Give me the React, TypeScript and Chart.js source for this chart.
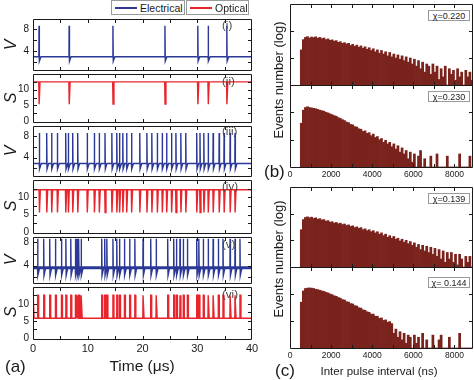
import React, { useEffect, useRef } from 'react';
import { Chart, registerables } from 'chart.js';

Chart.register(...registerables);

// ---------------- data ----------------
// (a) spike times in microseconds
const SPIKES_I = [1.1, 6.6, 14.6, 24.1, 30.1, 32.0, 35.4];
const SPIKES_III = [1.16, 2.5, 3.4, 4.45, 5.97, 6.45, 7.25, 8.16, 9.9, 11.2, 12.1, 13.15, 14.4, 15.3, 15.8, 16.4, 17.1, 18.0, 19.5, 20.8, 21.7, 22.7, 23.6, 24.4, 25.3, 26.1, 27.0, 27.9, 29.9, 30.5, 31.2, 32.0, 32.9, 34.0, 34.9, 36.0, 36.9];
const SPIKES_V = [0.85, 1.95, 3.05, 4.1, 5.2, 6.0, 6.9, 7.75, 8.05, 8.35, 8.8, 12.55, 13.1, 13.5, 14.6, 15.3, 15.8, 16.7, 17.65, 18.6, 20.1, 21.5, 22.5, 24.6, 25.7, 26.2, 26.85, 27.45, 28.2, 29.9, 30.3, 31.1, 32.0, 32.9, 33.85, 34.7, 36.0, 36.9, 37.8];

// voltage levels [base, peak, dip]
const V_LEVELS_I = [3.0, 8.6, 2.2];
const V_LEVELS_III = [2.9, 8.5, 1.9];
const V_LEVELS_V = [3.6, 8.6, 2.3];
// optical levels [steady, extreme]
const S_LEVELS_II = [12.5, 5.4];
const S_LEVELS_IV = [12.2, 5.6];
const S_LEVELS_VI = [5.8, 12.6];

const TIME_LABELS = [0, 10, 20, 30, 40];
const TIME_MARKS = [5, 10, 15, 20, 25, 30, 35];
const V_LABELS = [4, 8];
const V_MARKS = [2, 4, 6, 8];
const S_LABELS = [0, 5, 10];
const S_MARKS = [2.5, 5, 7.5, 10, 12.5];

// (b),(c) histograms: inter pulse interval bins (ns) and event counts
const BIN_START = 500;
const BIN_WIDTH = 100;
const COUNTS_B1 = [20, 48,
  58, 62, 55, 60, 57, 61, 54, 58, 52, 55,
  48, 51, 45, 47, 42, 44, 38, 40, 35, 37,
  33, 35, 29, 32, 27, 30, 25, 28, 23, 26,
  21, 24, 19, 22, 17, 20, 15, 19, 14, 17,
  12, 16, 11, 14, 10, 13, 9, 12, 8, 11,
  7, 10, 6, 9, 5, 8, 4, 7, 3, 6,
  5, 2.5, 6, 3, 5, 1.6, 4, 2, 5, 1,
  4, 2.5, 3.5, 1.5, 4, 2, 3, 1, 3.5, 2,
  3, 1.5, 3];
const COUNTS_B2 = [40, 120,
  150, 160, 150, 145, 140, 135, 128, 120, 115, 110,
  100, 95, 88, 82, 76, 72, 64, 60, 54, 50,
  44, 42, 36, 35, 30, 29, 25, 24, 20, 21,
  17, 18, 14, 16, 12, 13, 10, 11, 8, 9.5,
  7, 8, 5.5, 7, 4.5, 6, 3.5, 5, 3, 4,
  2, 3.5, 1.5, 3, 1, 2.5, 4, 1, 2, 1,
  1, 2.5, 1, 1, 3, 1, 1, 1, 1, 2.5,
  1, 1, 1, 1, 1, 3, 1, 1, 1, 1,
  2.5, 1, 1];
const COUNTS_C1 = [25, 60,
  72, 76, 70, 74, 66, 70, 62, 65, 58, 60,
  52, 55, 48, 50, 44, 47, 42, 44, 39, 41,
  36, 38, 33, 35, 30, 32, 28, 30, 25, 27,
  23, 25, 21, 23, 19, 21, 17, 19, 15, 17,
  13, 15, 12, 14, 11, 12, 9.5, 11, 8.5, 10,
  7.5, 9, 6.5, 8, 5.5, 7, 4.5, 6.5, 4, 6,
  3.5, 5.5, 3, 5, 2.5, 4.5, 2, 4, 1.5, 3.5,
  2, 3.5, 1.5, 3, 1.2, 3, 2, 1, 2.5, 1.5,
  2.5, 1, 2.5];
const COUNTS_C2 = [50, 130,
  160, 165, 168, 165, 160, 150, 145, 138, 130, 125,
  115, 110, 100, 95, 86, 82, 74, 70, 62, 60,
  52, 50, 44, 43, 37, 36, 31, 30, 26, 25,
  22, 21, 18, 18, 15, 15, 12.5, 13, 10.5, 11,
  9, 9.5, 8, 3.5, 5, 2.5, 4, 2, 3.5, 1.5,
  3, 2.5, 1, 3, 1.5, 2.5, 1, 3.5, 1, 2,
  1, 1, 3, 1, 1, 2, 3, 1, 1, 1,
  2.5, 1, 1, 1, 1, 3.5, 1, 1, 1, 1,
  1, 1, 1];
const INTERVAL_LABELS = [0, 2000, 4000, 6000, 8000];
const INTERVAL_MARKS = [1000, 2000, 3000, 4000, 5000, 6000, 7000, 8000];
const LOG_MARKS = [10, 100];
const CHI_B = ['\u03c7=0.220', '\u03c7=0.230'];
const CHI_C = ['\u03c7=0.139', '\u03c7= 0.144'];

// ---------------- styling ----------------
const FONT = "'Liberation Sans', Arial, Helvetica, sans-serif";
const BLUE = '#2b3896';
const RED = '#e8242c';
const BAR = '#7a231d';
const INK = '#1a1a1a';

type Pt = { x: number; y: number };

function electricalTrace(spikes: number[], lv: number[]): Pt[] {
  const [base, peak, dip] = lv;
  const pts: Pt[] = [{ x: 0, y: base }];
  for (const t of spikes) {
    pts.push({ x: t - 0.03, y: base }, { x: t, y: peak }, { x: t + 0.06, y: dip }, { x: t + 0.35, y: base });
  }
  pts.push({ x: 40, y: base });
  return pts;
}
function opticalDips(spikes: number[], lv: number[]): Pt[] {
  const [high, low] = lv;
  const pts: Pt[] = [{ x: 0, y: 0 }, { x: 0.03, y: high }];
  for (const t of spikes) {
    pts.push({ x: t - 0.05, y: high }, { x: t + 0.02, y: low }, { x: t + 0.18, y: high });
  }
  pts.push({ x: 40, y: high });
  return pts;
}
function opticalPulses(spikes: number[], lv: number[]): Pt[] {
  const [base, top] = lv;
  const pts: Pt[] = [{ x: 0, y: 0 }, { x: 0.03, y: top }, { x: 0.2, y: base }];
  for (const t of spikes) {
    pts.push({ x: t - 0.04, y: base }, { x: t, y: top }, { x: t + 0.14, y: top }, { x: t + 0.18, y: base });
  }
  pts.push({ x: 40, y: base });
  return pts;
}

const framePlugin = {
  id: 'frameTicks',
  afterDatasetsDraw(chart: any, _a: any, o: any) {
    const { ctx, chartArea: a } = chart;
    const xs = chart.scales.x;
    const ys = chart.scales.y;
    const L = Math.round(a.left) + 0.5;
    const R = Math.round(a.right) - 0.5;
    const T = Math.round(a.top) + 0.5;
    const B = Math.round(a.bottom) + 0.5;
    const len = 3.5;
    ctx.save();
    ctx.strokeStyle = INK;
    ctx.lineWidth = 1;
    ctx.beginPath();
    ctx.rect(L, T, R - L, B - T);
    for (const v of o.xMarks) {
      const px = Math.round(xs.getPixelForValue(v)) + 0.5;
      ctx.moveTo(px, T); ctx.lineTo(px, T + len);
      ctx.moveTo(px, B); ctx.lineTo(px, B - len);
    }
    for (const v of o.yMarks) {
      const py = Math.round(ys.getPixelForValue(v)) + 0.5;
      ctx.moveTo(L, py); ctx.lineTo(L + len, py);
      ctx.moveTo(R, py); ctx.lineTo(R - len, py);
    }
    ctx.stroke();
    ctx.restore();
  },
};

type PanelSpec = {
  id: string;
  left: number; width: number; top: number; bottom: number;
  yAxisW: number; padRight: number; showX: boolean; xAxisH: number;
  build: () => { type: string; datasets: any[]; x: any; y: any; xMarks: number[]; yMarks: number[] };
};

const PAD = 8;

function lineDs(data: Pt[], color: string, width = 1.4) {
  return { data, borderColor: color, borderWidth: width, pointRadius: 0, fill: false, tension: 0 };
}

const timeX = { type: 'linear', min: 0, max: 40, labels: TIME_LABELS, fontSize: 11 };

function vPanel(spikes: number[], lv: number[], yMin: number, yMax: number, band = false) {
  return () => ({
    type: 'line',
    datasets: band
      ? [lineDs(electricalTrace(spikes, lv), BLUE), lineDs([{ x: 0, y: lv[0] }, { x: 40, y: lv[0] }], BLUE, 3)]
      : [lineDs(electricalTrace(spikes, lv), BLUE)],
    x: timeX,
    y: { type: 'linear', min: yMin, max: yMax, labels: V_LABELS },
    xMarks: TIME_MARKS,
    yMarks: V_MARKS,
  });
}
function sPanel(data: Pt[]) {
  return () => ({
    type: 'line',
    datasets: [lineDs(data, RED)],
    x: timeX,
    y: { type: 'linear', min: -0.3, max: 15, labels: S_LABELS },
    xMarks: TIME_MARKS,
    yMarks: S_MARKS,
  });
}
function histPanel(counts: number[]) {
  return () => ({
    type: 'bar',
    datasets: [{
      data: counts.map((c, i) => ({ x: BIN_START + i * BIN_WIDTH + BIN_WIDTH / 2, y: c })),
      backgroundColor: BAR, borderWidth: 0, barPercentage: 1, categoryPercentage: 1,
    }],
    x: { type: 'linear', min: 0, max: 8900, labels: INTERVAL_LABELS, fontSize: 8.5 },
    y: { type: 'logarithmic', min: 1, max: 1000, labels: [] },
    xMarks: INTERVAL_MARKS,
    yMarks: LOG_MARKS,
  });
}

const A_L = 0, A_W = 262;
const R_L = 280, R_W = 194;

const PANELS: PanelSpec[] = [
  { id: 'i', left: A_L, width: A_W, top: 17, bottom: 72, yAxisW: 33, padRight: 10, showX: false, xAxisH: 0, build: vPanel(SPIKES_I, V_LEVELS_I, 0.6, 9.8) },
  { id: 'ii', left: A_L, width: A_W, top: 72, bottom: 124, yAxisW: 33, padRight: 10, showX: false, xAxisH: 0, build: sPanel(opticalDips(SPIKES_I, S_LEVELS_II)) },
  { id: 'iii', left: A_L, width: A_W, top: 124, bottom: 178, yAxisW: 33, padRight: 10, showX: false, xAxisH: 0, build: vPanel(SPIKES_III, V_LEVELS_III, 0.6, 9.8) },
  { id: 'iv', left: A_L, width: A_W, top: 178, bottom: 235, yAxisW: 33, padRight: 10, showX: false, xAxisH: 0, build: sPanel(opticalDips(SPIKES_III, S_LEVELS_IV)) },
  { id: 'v', left: A_L, width: A_W, top: 235, bottom: 285, yAxisW: 33, padRight: 10, showX: false, xAxisH: 0, build: vPanel(SPIKES_V, V_LEVELS_V, 1.0, 8.9, true) },
  { id: 'vi', left: A_L, width: A_W, top: 285, bottom: 339, yAxisW: 33, padRight: 10, showX: true, xAxisH: 20, build: sPanel(opticalPulses(SPIKES_V, S_LEVELS_VI)) },
  { id: 'b1', left: R_L, width: R_W, top: 4, bottom: 85, yAxisW: 10, padRight: 1, showX: false, xAxisH: 0, build: histPanel(COUNTS_B1) },
  { id: 'b2', left: R_L, width: R_W, top: 85, bottom: 167, yAxisW: 10, padRight: 1, showX: true, xAxisH: 14, build: histPanel(COUNTS_B2) },
  { id: 'c1', left: R_L, width: R_W, top: 187, bottom: 267, yAxisW: 10, padRight: 1, showX: false, xAxisH: 0, build: histPanel(COUNTS_C1) },
  { id: 'c2', left: R_L, width: R_W, top: 267, bottom: 348, yAxisW: 10, padRight: 1, showX: true, xAxisH: 14, build: histPanel(COUNTS_C2) },
];

function canvasHeight(p: PanelSpec) {
  return p.bottom - p.top + PAD + (p.showX ? p.xAxisH : PAD);
}

function makeChart(canvas: HTMLCanvasElement, p: PanelSpec) {
  const b = p.build();
  const fmt = (labels: number[]) => (v: any) => (labels.includes(Number(v)) ? String(v) : '');
  return new Chart(canvas, {
    type: b.type as any,
    data: { datasets: b.datasets },
    plugins: [framePlugin],
    options: {
      animation: false,
      responsive: false,
      devicePixelRatio: 1,
      events: [],
      layout: { padding: { top: PAD, bottom: p.showX ? 0 : PAD, left: 0, right: p.padRight } },
      plugins: { legend: { display: false }, tooltip: { enabled: false }, frameTicks: { xMarks: b.xMarks, yMarks: b.yMarks } } as any,
      scales: {
        x: {
          type: b.x.type,
          min: b.x.min,
          max: b.x.max,
          offset: false,
          display: p.showX,
          grid: { display: false, drawTicks: false },
          border: { display: false },
          afterBuildTicks: (s: any) => { s.ticks = b.x.labels.map((v: number) => ({ value: v })); },
          afterFit: (s: any) => { s.height = p.xAxisH; },
          ticks: { autoSkip: false, maxRotation: 0, padding: 3, color: INK, font: { family: FONT, size: b.x.fontSize }, callback: fmt(b.x.labels) },
        },
        y: {
          type: b.y.type,
          min: b.y.min,
          max: b.y.max,
          grid: { display: false, drawTicks: false },
          border: { display: false },
          afterBuildTicks: (s: any) => { s.ticks = b.y.labels.map((v: number) => ({ value: v })); },
          afterFit: (s: any) => { s.width = p.yAxisW; },
          ticks: { display: b.y.labels.length > 0, padding: 4, color: INK, font: { family: FONT, size: 10 }, callback: fmt(b.y.labels) },
        },
      } as any,
    },
  } as any);
}

const txt = (extra: React.CSSProperties): React.CSSProperties => ({
  position: 'absolute', fontFamily: FONT, color: INK, whiteSpace: 'nowrap', lineHeight: 1, ...extra,
});

function LegendBox({ left, width, color, label }: { left: number; width: number; color: string; label: string }) {
  return (
    <div style={{ position: 'absolute', left, top: 0, width, height: 15, boxSizing: 'border-box', border: '1px solid #9a9a9a', background: '#fff', display: 'flex', alignItems: 'center', fontFamily: FONT, fontSize: 10.5, color: INK }}>
      <span style={{ display: 'inline-block', flex: '0 0 22px', height: 2, background: color, marginLeft: 3, marginRight: 3 }} />
      {label}
    </div>
  );
}

function RotLabel({ cx, cy, text, size, italic }: { cx: number; cy: number; text: string; size: number; italic?: boolean }) {
  return (
    <div style={txt({ left: cx, top: cy, fontSize: size, fontStyle: italic ? 'italic' : 'normal', transform: 'translate(-50%,-50%) rotate(-90deg)' })}>{text}</div>
  );
}

export default function App() {
  const refs = useRef<(HTMLCanvasElement | null)[]>([]);
  useEffect(() => {
    const charts = PANELS.map((p, i) => makeChart(refs.current[i] as HTMLCanvasElement, p));
    return () => charts.forEach((c) => c.destroy());
  }, []);

  const romans = [
    { t: '(i)', top: 20 }, { t: '(ii)', top: 76 }, { t: '(iii)', top: 126 },
    { t: '(iv)', top: 181 }, { t: '(v)', top: 239 }, { t: '(vi)', top: 289 },
  ];
  const vs = [
    { t: 'V', cy: 45 }, { t: 'S', cy: 98 }, { t: 'V', cy: 151 },
    { t: 'S', cy: 206 }, { t: 'V', cy: 260 }, { t: 'S', cy: 312 },
  ];

  return (
    <div style={{ position: 'fixed', left: 0, top: 0, width: 474, height: 380, background: '#fff', overflow: 'hidden' }}>
      {PANELS.map((p, i) => (
        <canvas
          key={p.id}
          ref={(el) => { refs.current[i] = el; }}
          width={p.width}
          height={canvasHeight(p)}
          style={{ position: 'absolute', left: p.left, top: p.top - PAD, width: p.width, height: canvasHeight(p) }}
        />
      ))}
      <LegendBox left={111} width={74} color={BLUE} label="Electrical" />
      <LegendBox left={186} width={63} color={RED} label="Optical" />
      {romans.map((r) => (
        <div key={r.t} style={txt({ left: 222, top: r.top, fontSize: 11.5, color: '#444' })}>{r.t}</div>
      ))}
      {vs.map((v, i) => (
        <RotLabel key={i} cx={11} cy={v.cy} text={v.t} size={16} italic />
      ))}
      <div style={txt({ left: 5, top: 358, fontSize: 17 })}>(a)</div>
      <div style={txt({ left: 142, top: 366, fontSize: 15.5, transform: 'translate(-50%,-50%)' })}>Time (μs)</div>
      <div style={txt({ left: 264, top: 163, fontSize: 17 })}>(b)</div>
      <div style={txt({ left: 275, top: 362, fontSize: 17 })}>(c)</div>
      <RotLabel cx={278} cy={80} text="Events number (log)" size={13} />
      <RotLabel cx={278} cy={259} text="Events number (log)" size={13} />
      <div style={txt({ left: 379, top: 372, fontSize: 11.5, transform: 'translate(-50%,-50%)' })}>Inter pulse interval (ns)</div>
      {[...CHI_B.map((c, i) => ({ c, top: [10, 91][i] })), ...CHI_C.map((c, i) => ({ c, top: [193, 277][i] }))].map((o) => (
        <div key={o.c} style={txt({ left: 428, top: o.top, width: 42, height: 11, boxSizing: 'border-box', border: '1px solid #9a9a9a', background: '#fff', fontSize: 9, textAlign: 'center', paddingTop: 1 })}>{o.c}</div>
      ))}
    </div>
  );
}
